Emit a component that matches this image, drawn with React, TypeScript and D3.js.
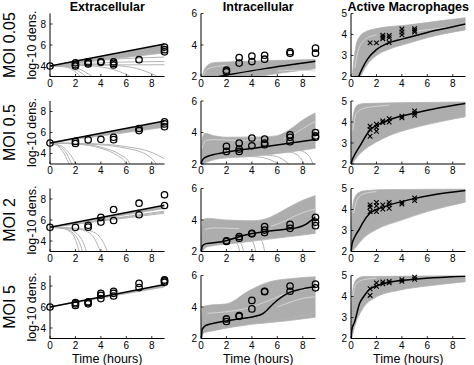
import * as d3 from "d3";

type Pt = [number, number];

// sampling times
const extTimes = [0, 2, 3, 4, 5, 7, 9];
const intTimes = [2, 3, 4, 5, 7, 9];
const macTimes = [1.5, 2, 2.5, 3, 4, 5];

const xTicks = [0, 2, 4, 6, 8];
const extTicks = [4, 6, 8];
const intTicks = [2, 4, 6];
const macTicks = [2, 3, 4, 5];

const rowLabels = ["MOI 0.05", "MOI 0.5", "MOI 2", "MOI 5"];
const colTitles = ["Extracellular", "Intracellular", "Active Macrophages"];

// ---- Extracellular ----
const ext1Fit: Pt[] = [[0, 4], [9, 6.1]];
const ext1Upper: Pt[] = [[0, 4], [9, 6.05]];
const ext1Lower: Pt[] = [[0, 4], [9, 5.25]];
const ext1Lines: Pt[][] = [
  [[0, 4], [4, 4.55], [9, 4.85]],
  [[0, 4], [3, 4.25], [6, 4.38], [9, 4.42]],
  [[0, 4], [4, 4.1], [9, 4.12]],
  [[0, 4], [1, 3.95], [1.7, 3.7], [2.1, 3.35], [2.4, 3.0], [2.6, 2.7]],
  [[0, 4], [1.2, 3.93], [2, 3.65], [2.5, 3.3], [2.8, 3.0], [3.0, 2.7]],
  [[0, 4], [1.5, 3.95], [2.5, 3.6], [3.0, 3.25], [3.3, 3.0], [3.5, 2.7]],
  [[0, 4], [2.5, 4.05], [4.5, 3.8], [5.7, 3.35], [6.3, 3.0], [6.6, 2.7]],
  [[0, 4], [3, 4.15], [6, 3.95], [7.6, 3.45], [8.4, 3.0], [8.7, 2.7]],
];
const ext1Obs = [[4.0], [4.3, 4.12, 4.0], [4.4, 4.3, 4.2], [4.42, 4.35], [4.4, 4.25, 4.1], [4.6], [5.8, 5.55, 5.35]];

const ext2Fit: Pt[] = [[0, 5], [9, 7.1]];
const ext2Upper: Pt[] = [[0, 5], [9, 7.05]];
const ext2Lower: Pt[] = [[0, 5], [9, 6.5]];
const ext2Lines: Pt[][] = [
  [[0, 5], [0.4, 4.85], [0.8, 4.5], [1.1, 4.0], [1.35, 3.4], [1.5, 3.0], [1.6, 2.7]],
  [[0, 5], [0.5, 4.85], [0.9, 4.55], [1.3, 4.0], [1.55, 3.4], [1.7, 3.0], [1.8, 2.7]],
  [[0, 5], [0.6, 4.85], [1.1, 4.55], [1.5, 4.05], [1.85, 3.4], [2.0, 3.0], [2.1, 2.7]],
  [[0, 5], [2, 4.9], [4, 4.5], [5.3, 3.8], [5.9, 3.2], [6.1, 2.7]],
  [[0, 5], [2, 4.95], [4, 4.6], [5.5, 3.9], [6.2, 3.2], [6.4, 2.7]],
  [[0, 5], [3, 4.9], [6, 4.5], [7.7, 3.8], [8.3, 3.1], [8.5, 2.7]],
  [[0, 5], [3, 4.95], [6, 4.65], [8, 4.1], [9, 3.5]],
];
const ext2Obs = [[5.0], [5.15, 4.95], [5.3], [5.35], [5.55, 5.32], [6.38, 6.18], [7.02, 6.82, 6.55]];

const ext3Fit: Pt[] = [[0, 5.3], [9, 7.4]];
const ext3Upper: Pt[] = [[0, 5.3], [9, 7.3]];
const ext3Lower: Pt[] = [[0, 5.3], [9, 7.1]];
const ext3Lines: Pt[][] = [
  [[0, 5.3], [9, 6.85]],
  [[0, 5.3], [9, 6.75]],
  [[0, 5.3], [9, 6.65]],
  [[0, 5.3], [1, 5.2], [1.5, 4.95], [1.9, 4.4], [2.15, 3.6], [2.3, 3.0], [2.4, 2.6]],
  [[0, 5.3], [1, 5.22], [1.6, 4.95], [2.1, 4.35], [2.4, 3.6], [2.55, 3.0], [2.65, 2.6]],
  [[0, 5.3], [1.2, 5.22], [1.9, 4.9], [2.4, 4.3], [2.7, 3.6], [2.85, 3.0], [2.95, 2.6]],
  [[0, 5.3], [1.8, 5.2], [2.8, 4.95], [3.4, 4.4], [3.75, 3.6], [3.95, 3.0], [4.05, 2.6]],
  [[0, 5.3], [2, 5.22], [3.2, 4.95], [3.9, 4.4], [4.3, 3.6], [4.5, 3.0], [4.6, 2.6]],
];
const ext3Obs = [[5.3], [5.3], [5.5, 5.32], [6.25, 5.8], [7.0, 5.95], [7.6, 6.5], [8.4, 7.38]];

const ext4Fit: Pt[] = [[0, 6], [9, 8.15]];
const ext4Upper: Pt[] = [[0, 6], [9, 8.1]];
const ext4Lower: Pt[] = [[0, 6], [9, 7.9]];
const ext4Obs = [[6.0], [6.42, 6.3, 6.15], [6.5, 6.42, 6.3], [7.3, 7.12, 6.8], [7.5, 7.3, 7.05], [8.25, 7.85], [8.58, 8.48, 8.35]];

// ---- Intracellular ----
const int1Fit: Pt[] = [[1.4, 2.0], [5, 2.5], [9, 2.97]];
const int1Upper: Pt[] = [[0.1, 2.0], [0.25, 2.4], [0.5, 2.7], [1, 2.88], [2, 2.92], [5, 3.0], [9, 3.08]];
const int1Lower: Pt[] = [[0.2, 2.0], [4, 2.0], [6.5, 2.25], [9, 2.5]];
const int1Light: Pt[][] = [
  [[0.2, 2.1], [0.5, 2.45], [1, 2.6], [2, 2.7]],
  [[6, 2.35], [7.5, 2.4], [9, 2.35]],
];
const int1Obs = [[2.4, 2.3], [3.2, 2.85], [3.3, 2.95], [3.35, 3.1], [3.57, 3.47], [3.8, 3.48]];

const int2Fit: Pt[] = [[0.02, 2.0], [0.08, 2.2], [0.3, 2.4], [1, 2.6], [1.5, 2.68], [5, 3.1], [9, 3.55]];
const int2Upper: Pt[] = [[0.02, 2.0], [0.1, 3.6], [0.3, 3.95], [1, 3.8], [2, 3.7], [5, 3.72], [6, 3.8], [7, 4.2], [8, 4.8], [9, 5.25]];
const int2Lower: Pt[] = [[0.05, 2.0], [1.5, 2.35], [3.8, 2.47], [6.4, 2.7], [9, 3.0]];
const int2Lines: Pt[][] = [
  [[3, 2.5], [4.5, 2.45], [5.5, 2.25], [6.1, 2.0]],
  [[4.5, 2.6], [5.8, 2.5], [6.6, 2.2], [6.9, 2.0]],
  [[5.5, 2.8], [7, 2.75], [7.8, 2.4], [8.1, 2.0]],
  [[6.5, 2.95], [7.8, 2.85], [8.5, 2.5], [8.8, 2.0]],
];
const int2Light: Pt[][] = [
  [[0.1, 3.0], [0.4, 3.5], [1, 3.55], [3, 3.5], [5, 3.55]],
  [[6.5, 3.6], [7.5, 4.0], [8.5, 4.5], [9, 4.7]],
];
const int2Obs = [[3.12, 2.8], [3.33, 2.95, 2.8], [3.65, 3.16], [3.58, 3.33, 3.23], [3.85, 3.7, 3.42], [4.0, 3.78, 3.7]];

const int3Fit: Pt[] = [[0.02, 2.0], [0.1, 2.35], [0.4, 2.5], [1.5, 2.6], [3.5, 3.05], [6.5, 3.4], [7.5, 3.5], [8.2, 3.7], [8.7, 4.0], [9, 4.2]];
const int3Upper: Pt[] = [[0.02, 2.0], [0.12, 4.0], [0.5, 4.1], [2, 4.0], [4, 3.95], [5, 4.05], [6, 4.4], [7, 4.85], [8, 5.25], [9, 5.55]];
const int3Lower: Pt[] = [[0.1, 2.0], [0.5, 2.3], [3, 2.55], [6, 2.85], [9, 3.15]];
const int3Lines: Pt[][] = [
  [[2.7, 2.6], [2.95, 2.3], [3.05, 2.0]],
  [[3.0, 2.62], [3.25, 2.3], [3.35, 2.0]],
  [[4.0, 2.7], [4.2, 2.35], [4.3, 2.0]],
  [[4.7, 2.78], [4.9, 2.4], [5.0, 2.0]],
];
const int3Light: Pt[][] = [
  [[5.5, 3.6], [6.5, 3.9], [7.5, 4.3], [8.5, 4.6], [9, 4.7]],
  [[0.3, 3.4], [1, 3.5], [3, 3.45]],
];
const int3Obs = [[2.68, 2.64], [2.95, 2.84], [3.16, 3.12], [3.58, 3.36, 3.2], [3.72, 3.47], [4.17, 3.86, 3.64]];

const int4Fit: Pt[] = [[0.02, 2.0], [0.1, 2.6], [0.4, 2.84], [1.5, 3.05], [3, 3.25], [4.1, 3.38], [4.9, 3.6], [5.7, 4.22], [6.8, 4.86], [8, 5.15], [9, 5.3]];
const int4Upper: Pt[] = [[0.02, 2.0], [0.12, 4.0], [0.5, 4.1], [2, 4.2], [2.6, 4.4], [3.5, 4.9], [4.3, 5.25], [5.5, 5.62], [7, 5.8], [9, 5.92]];
const int4Lower: Pt[] = [[0.05, 2.0], [0.2, 2.35], [1, 2.5], [4, 2.9], [6.5, 3.1], [9, 3.35]];
const int4Lines: Pt[][] = [[[5, 3.05], [7, 3.3], [9, 3.65]]];
const int4Light: Pt[][] = [
  [[0.5, 3.6], [2, 3.7], [3.5, 3.9], [5, 4.3], [6.5, 4.8], [8, 5.1], [9, 5.2]],
  [[6, 4.0], [7, 4.3], [8, 4.55], [9, 4.65]],
];
const int4Obs = [[3.24, 3.08], [3.45, 3.41], [4.42, 3.88], [5.0, 4.97], [5.33, 5.0], [5.45, 5.22]];

// ---- Active macrophages ----
const mac1Fit: Pt[] = [[0.6, 2.0], [0.9, 2.4], [1.34, 2.86], [2, 3.28], [2.8, 3.56], [4, 3.78], [4.6, 3.87], [6, 4.1], [7.5, 4.3], [9, 4.5]];
const mac1Upper: Pt[] = [[0.1, 2.0], [0.2, 2.6], [0.4, 3.5], [0.7, 3.92], [1, 4.08], [2, 4.28], [4.6, 4.46], [7, 4.65], [9, 4.8]];
const mac1Lower: Pt[] = [[0.75, 2.0], [1.2, 2.5], [2, 3.0], [3, 3.3], [4.5, 3.58], [6, 3.85], [9, 4.22]];
const mac1Light: Pt[][] = [
  [[0.3, 2.4], [0.55, 3.2], [1, 3.7], [1.5, 3.9], [2, 3.98]],
  [[5, 4.15], [7, 4.3], [9, 4.42]],
];
const mac1Obs = [[3.6], [3.6], [3.97, 3.88, 3.8], [3.95, 3.85, 3.62], [4.26, 4.12, 3.98], [4.28, 4.2, 4.12]];

const mac2Fit: Pt[] = [[0.01, 2.0], [0.1, 2.2], [0.29, 2.44], [0.68, 2.84], [1.42, 3.56], [2.8, 4.05], [4.6, 4.37], [6.5, 4.62], [9, 4.88]];
const mac2Upper: Pt[] = [[0.02, 2.0], [0.08, 3.5], [0.2, 4.4], [0.5, 4.8], [1, 4.88], [9, 4.95]];
const mac2Lower: Pt[] = [[0.1, 2.0], [0.5, 2.35], [1, 2.65], [2, 3.05], [3, 3.35], [4.5, 3.65], [6.5, 3.95], [9, 4.25]];
const mac2Light: Pt[][] = [[[0.15, 3.6], [0.4, 4.4], [1, 4.65], [2, 4.75], [3, 4.8]]];
const mac2Obs = [[3.8, 3.64, 3.32], [3.89, 3.73, 3.56], [4.05, 3.97], [4.16, 4.0], [4.28, 4.2], [4.53, 4.42, 4.32]];

const mac3Fit: Pt[] = [[0.01, 2.0], [0.08, 2.35], [0.3, 2.7], [0.69, 3.1], [0.9, 3.34], [1.48, 3.82], [2, 4.0], [3.05, 4.22], [4.6, 4.47], [6.5, 4.7], [9, 4.9]];
const mac3Upper: Pt[] = [[0.02, 2.0], [0.08, 3.7], [0.25, 4.5], [0.6, 4.8], [1.2, 4.9], [3, 4.95], [9, 4.98]];
const mac3Lower: Pt[] = [[0.1, 2.0], [0.5, 2.3], [1, 2.65], [2, 3.05], [4, 3.5], [6, 3.9], [9, 4.35]];
const mac3Light: Pt[][] = [[[0.2, 3.8], [0.5, 4.5], [1, 4.75], [2, 4.85]]];
const mac3Obs = [[4.22, 4.11, 3.9], [4.34, 4.18, 3.9], [4.22, 4.02], [4.34, 4.22, 4.06], [4.34, 4.26], [4.55, 4.43]];

const mac4Fit: Pt[] = [[0.01, 2.0], [0.06, 2.4], [0.29, 2.8], [0.68, 3.68], [1.0, 4.0], [1.42, 4.32], [2, 4.5], [2.8, 4.65], [4.6, 4.8], [9, 4.97]];
const mac4Upper: Pt[] = [[0.02, 2.0], [0.06, 3.5], [0.2, 4.5], [0.5, 4.85], [1, 4.95], [9, 5.0]];
const mac4Lower: Pt[] = [[0.05, 2.0], [0.3, 2.6], [0.85, 3.35], [1.9, 3.95], [3.8, 4.3], [6, 4.5], [9, 4.7]];
const mac4Light: Pt[][] = [[[0.15, 4.0], [0.4, 4.6], [1, 4.8], [2, 4.88]]];
const mac4Obs = [[4.37, 4.05], [4.65, 4.48], [4.69, 4.6], [4.72, 4.65], [4.8, 4.72], [4.92, 4.82]];

type PanelData = {
  fit: Pt[];
  upper: Pt[];
  lower: Pt[];
  lines?: Pt[][];
  light?: Pt[][];
  obs: number[][];
};

const panels: PanelData[][] = [
  [
    { fit: ext1Fit, upper: ext1Upper, lower: ext1Lower, lines: ext1Lines, obs: ext1Obs },
    { fit: int1Fit, upper: int1Upper, lower: int1Lower, light: int1Light, obs: int1Obs },
    { fit: mac1Fit, upper: mac1Upper, lower: mac1Lower, light: mac1Light, obs: mac1Obs },
  ],
  [
    { fit: ext2Fit, upper: ext2Upper, lower: ext2Lower, lines: ext2Lines, obs: ext2Obs },
    { fit: int2Fit, upper: int2Upper, lower: int2Lower, lines: int2Lines, light: int2Light, obs: int2Obs },
    { fit: mac2Fit, upper: mac2Upper, lower: mac2Lower, light: mac2Light, obs: mac2Obs },
  ],
  [
    { fit: ext3Fit, upper: ext3Upper, lower: ext3Lower, lines: ext3Lines, obs: ext3Obs },
    { fit: int3Fit, upper: int3Upper, lower: int3Lower, lines: int3Lines, light: int3Light, obs: int3Obs },
    { fit: mac3Fit, upper: mac3Upper, lower: mac3Lower, light: mac3Light, obs: mac3Obs },
  ],
  [
    { fit: ext4Fit, upper: ext4Upper, lower: ext4Lower, obs: ext4Obs },
    { fit: int4Fit, upper: int4Upper, lower: int4Lower, lines: int4Lines, light: int4Light, obs: int4Obs },
    { fit: mac4Fit, upper: mac4Upper, lower: mac4Lower, light: mac4Light, obs: mac4Obs },
  ],
];

const colSpec = [
  { x0: 50, domain: [3, 9], ticks: extTicks, times: extTimes, marker: "o" },
  { x0: 201, domain: [2, 6], ticks: intTicks, times: intTimes, marker: "o" },
  { x0: 351, domain: [2, 5], ticks: macTicks, times: macTimes, marker: "x" },
];

const rowTops = [13.5, 101, 188.5, 275.5];
const plotW = 114.5;
const plotH = 63;
const font = "'Liberation Sans', Arial, Helvetica, sans-serif";
const bandColor = "#adadad";
const lineGray = "#b3b3b3";

function Panel({ row, col }: { row: number; col: number }) {
  const spec = colSpec[col];
  const p = panels[row][col];
  const top = rowTops[row];
  const x = d3.scaleLinear().domain([0, 9]).range([spec.x0, spec.x0 + plotW]);
  const y = d3.scaleLinear().domain(spec.domain).range([top + plotH, top]);
  const line = d3
    .line<Pt>()
    .x((d) => x(d[0]))
    .y((d) => y(d[1]))
    .curve(d3.curveMonotoneX);
  const band =
    (line(p.upper) || "") +
    (line(p.lower.slice().reverse()) || "").replace(/^M/, "L") +
    "Z";
  const clipId = `clip-${row}-${col}`;
  const bottom = top + plotH;

  return (
    <g>
      <defs>
        <clipPath id={clipId}>
          <rect x={spec.x0} y={top} width={plotW} height={plotH} />
        </clipPath>
      </defs>
      <g clipPath={`url(#${clipId})`}>
        <path d={band} fill={bandColor} stroke={lineGray} strokeWidth={0.8} />
        {(p.light || []).map((l, i) => (
          <path key={"l" + i} d={line(l) || ""} fill="none" stroke="#d8d8d8" strokeWidth={0.9} />
        ))}
        {(p.lines || []).map((l, i) => (
          <path key={"g" + i} d={line(l) || ""} fill="none" stroke={lineGray} strokeWidth={1} />
        ))}
        <path d={line(p.fit) || ""} fill="none" stroke="#000" strokeWidth={1.5} />
      </g>
      {/* axes */}
      <line x1={spec.x0} x2={spec.x0} y1={top} y2={bottom} stroke="#000" strokeWidth={1} />
      <line x1={spec.x0} x2={spec.x0 + plotW} y1={bottom} y2={bottom} stroke="#000" strokeWidth={1} />
      {xTicks.map((t) => (
        <g key={"xt" + t}>
          <line x1={x(t)} x2={x(t)} y1={bottom} y2={bottom - 2.5} stroke="#000" strokeWidth={0.8} />
          <text x={x(t)} y={bottom + 10} fontSize={10} textAnchor="middle" fontFamily={font}>
            {t}
          </text>
        </g>
      ))}
      {spec.ticks.map((v) => (
        <g key={"yt" + v}>
          <line x1={spec.x0} x2={spec.x0 + 2.5} y1={y(v)} y2={y(v)} stroke="#000" strokeWidth={0.8} />
          <text x={spec.x0 - 4} y={y(v) + 3.6} fontSize={10} textAnchor="end" fontFamily={font}>
            {v}
          </text>
        </g>
      ))}
      {/* observations */}
      {p.obs.map((vals, i) =>
        vals.map((v, j) => {
          const cx = x(spec.times[i]);
          const cy = y(v);
          if (spec.marker === "o") {
            return (
              <circle key={`o${i}-${j}`} cx={cx} cy={cy} r={3.2} fill="none" stroke="#000" strokeWidth={1.3} />
            );
          }
          const s = 2.3;
          return (
            <path
              key={`x${i}-${j}`}
              d={`M${cx - s},${cy - s}L${cx + s},${cy + s}M${cx - s},${cy + s}L${cx + s},${cy - s}`}
              stroke="#000"
              strokeWidth={1.1}
              fill="none"
            />
          );
        })
      )}
    </g>
  );
}

export default function App() {
  return (
    <svg
      width={474}
      height={365}
      viewBox="0 0 474 365"
      style={{ position: "absolute", left: 0, top: 0, background: "#fff" }}
    >
      <rect width={474} height={365} fill="#fff" />
      {colTitles.map((t, c) => (
        <text
          key={t}
          x={colSpec[c].x0 + plotW / 2}
          y={11}
          fontSize={12.5}
          fontWeight="bold"
          textAnchor="middle"
          fontFamily={font}
        >
          {t}
        </text>
      ))}
      {rowLabels.map((label, r) => {
        const cy = rowTops[r] + plotH / 2;
        return (
          <g key={label}>
            <text
              transform={`translate(14.5,${cy}) rotate(-90)`}
              fontSize={16}
              textAnchor="middle"
              fontFamily={font}
            >
              {label}
            </text>
            <text
              transform={`translate(36,${cy}) rotate(-90)`}
              fontSize={12.5}
              textAnchor="middle"
              fontFamily={font}
            >
              log-10 dens.
            </text>
          </g>
        );
      })}
      {rowTops.map((_, r) =>
        colSpec.map((_, c) => <Panel key={`${r}-${c}`} row={r} col={c} />)
      )}
      {colSpec.map((s, c) => (
        <text
          key={"tx" + c}
          x={s.x0 + plotW / 2}
          y={362.5}
          fontSize={12.5}
          textAnchor="middle"
          fontFamily={font}
        >
          Time (hours)
        </text>
      ))}
    </svg>
  );
}
